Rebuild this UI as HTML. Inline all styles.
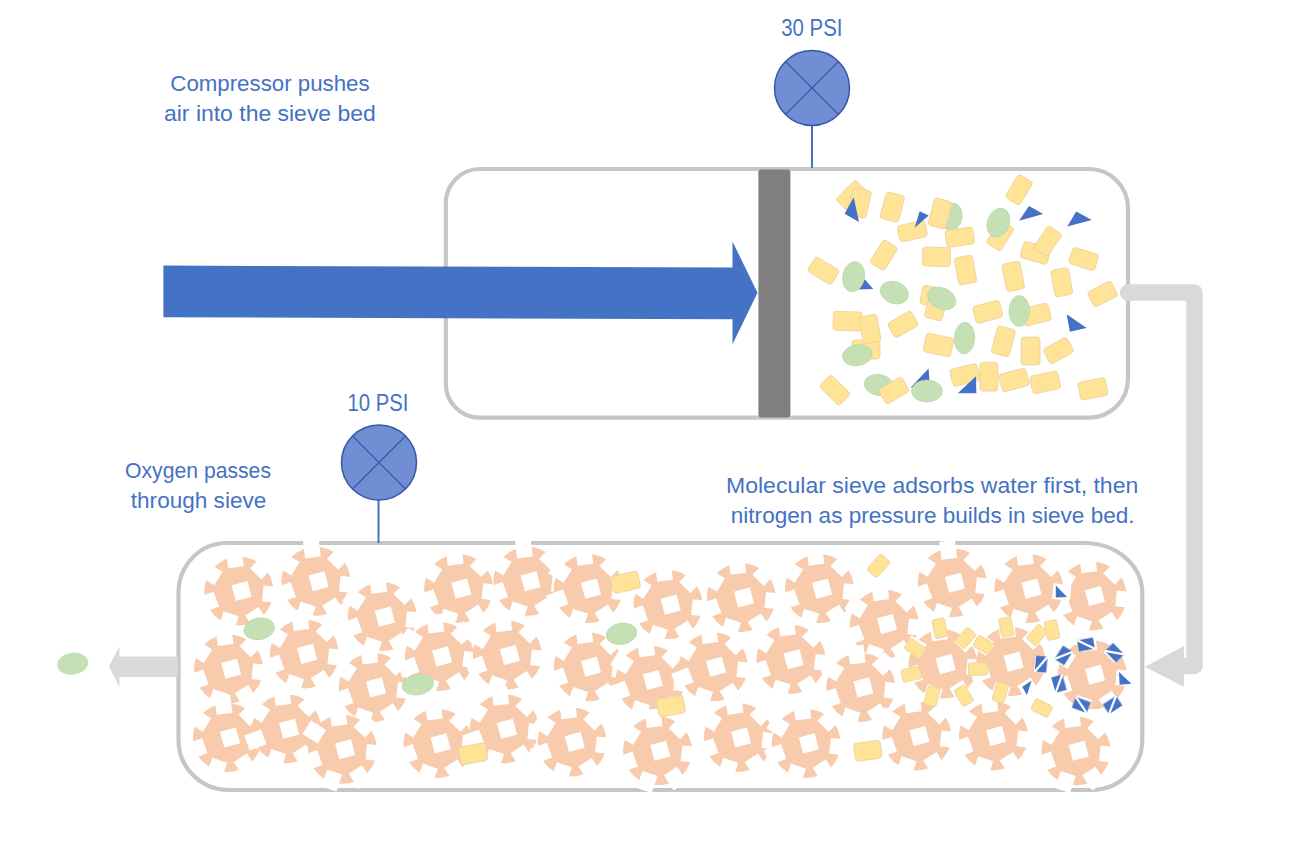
<!DOCTYPE html>
<html><head><meta charset="utf-8"><style>
html,body{margin:0;padding:0;background:#fff;width:1292px;height:848px;overflow:hidden}
svg{display:block}
text{font-family:"Liberation Sans",sans-serif;fill:#4472C4}
.y{fill:#FFE397;stroke:#EBD19E;stroke-width:0.8}
.gr{fill:#C5E0B4;stroke:#B9D6A6;stroke-width:0.6}
.b{fill:#4472C4;filter:url(#soft)}
.o{fill:#F8CBAD}
</style></head><body>
<svg width="1292" height="848" viewBox="0 0 1292 848">
<defs>
<filter id="soft" x="-30%" y="-30%" width="160%" height="160%"><feGaussianBlur stdDeviation="0.7"/></filter>

<g id="gear"><circle r="34.5" fill="#F8CBAD"/><rect x="24" y="-7.9" width="18" height="15.8" transform="rotate(-97.00)" fill="#fff"/><rect x="24" y="-7.9" width="18" height="15.8" transform="rotate(-45.57)" fill="#fff"/><rect x="24" y="-7.9" width="18" height="15.8" transform="rotate(5.86)" fill="#fff"/><rect x="24" y="-7.9" width="18" height="15.8" transform="rotate(57.29)" fill="#fff"/><rect x="24" y="-7.9" width="18" height="15.8" transform="rotate(108.71)" fill="#fff"/><rect x="24" y="-7.9" width="18" height="15.8" transform="rotate(160.14)" fill="#fff"/><rect x="24" y="-7.9" width="18" height="15.8" transform="rotate(211.57)" fill="#fff"/><rect x="-8.2" y="-8.2" width="16.4" height="16.4" transform="translate(2.7 0) rotate(-15)" fill="#fff"/></g>
</defs>
<!-- texts -->
<text x="170.3" y="91.4" font-size="22.5" textLength="199.3" lengthAdjust="spacingAndGlyphs">Compressor pushes</text>
<text x="164" y="121.2" font-size="22.5" textLength="211.8" lengthAdjust="spacingAndGlyphs">air into the sieve bed</text>
<text x="781.2" y="36.1" font-size="23" textLength="61.2" lengthAdjust="spacingAndGlyphs">30 PSI</text>
<text x="347.6" y="410.5" font-size="24.4" textLength="60.8" lengthAdjust="spacingAndGlyphs">10 PSI</text>
<text x="125" y="478" font-size="22.5" textLength="146" lengthAdjust="spacingAndGlyphs">Oxygen passes</text>
<text x="130.8" y="507.7" font-size="22.5" textLength="135.5" lengthAdjust="spacingAndGlyphs">through sieve</text>
<text x="726" y="492.8" font-size="22.5" textLength="412.3" lengthAdjust="spacingAndGlyphs">Molecular sieve adsorbs water first, then</text>
<text x="730.8" y="522.7" font-size="22.5" textLength="403.8" lengthAdjust="spacingAndGlyphs">nitrogen as pressure builds in sieve bed.</text>

<!-- top container -->
<path d="M479.8,169 L1089,169 A39,39 0 0 1 1128,208 L1128,378.7 A39,39 0 0 1 1089,417.7 L479.8,417.7 A34,34 0 0 1 445.8,383.7 L445.8,203 A34,34 0 0 1 479.8,169 Z" fill="none" stroke="#C6C6C6" stroke-width="4.2"/>
<!-- gauge line top -->
<line x1="812" y1="125" x2="812" y2="168" stroke="#4472C4" stroke-width="2"/>
<circle cx="812" cy="88" r="37.5" fill="#718DD3" stroke="#3558A6" stroke-width="1.5"/>
<line x1="785.5" y1="61.5" x2="838.5" y2="114.5" stroke="#3A5DAE" stroke-width="1.5"/>
<line x1="838.5" y1="61.5" x2="785.5" y2="114.5" stroke="#3A5DAE" stroke-width="1.5"/>
<!-- bar -->
<rect x="758.4" y="169.4" width="32" height="248" rx="3" fill="#7F7F7F"/>
<!-- blue arrow -->
<path d="M163.4,265.6 L732.5,267.4 L732.5,241.5 L757.5,292.8 L732.5,344.2 L732.5,319.2 L163.4,317.3 Z" fill="#4472C4"/>
<!-- pipe -->
<path d="M1128,292.5 L1194.5,292.5 L1194.5,666 L1184,666" fill="none" stroke="#D9D9D9" stroke-width="16.5" stroke-linejoin="round" stroke-linecap="round"/>
<path d="M1184,646 L1145,666.8 L1184,687 Z" fill="#D9D9D9"/>

<!-- bottom container -->
<path d="M226.5,543 L1084.3,543 A58,50 0 0 1 1142.3,593 L1142.3,740 A51,50 0 0 1 1091.3,790 L228.5,790 A50,50 0 0 1 178.5,740 L178.5,593 A48,50 0 0 1 226.5,543 Z" fill="none" stroke="#C6C6C6" stroke-width="4.2"/>
<!-- bottom gauge -->
<line x1="378.5" y1="500" x2="378.5" y2="543" stroke="#4472C4" stroke-width="2"/>
<circle cx="379" cy="462.5" r="37.5" fill="#718DD3" stroke="#3558A6" stroke-width="1.5"/>
<line x1="352.5" y1="436" x2="405.5" y2="489" stroke="#3A5DAE" stroke-width="1.5"/>
<line x1="405.5" y1="436" x2="352.5" y2="489" stroke="#3A5DAE" stroke-width="1.5"/>
<!-- out arrow -->
<path d="M178,656.5 L119.4,656.5 L119.4,646.3 L109,666.5 L119.4,686.9 L119.4,677 L178,677 Z" fill="#D9D9D9"/>
<ellipse cx="72.7" cy="663.7" rx="15.6" ry="11" fill="#C5E0B4" transform="rotate(-8 72.7 663.7)"/>

<rect x="837.4" y="187.0" width="28" height="17" rx="3" transform="rotate(-45 851.4 195.5)" class="y"/>
<rect x="850.1" y="188.8" width="18.7" height="28.3" rx="3" transform="rotate(13 859.5 203)" class="y"/>
<polygon points="853.7,197.3 844.6,213.8 859,222" class="b"/>
<rect x="882.8" y="193.5" width="19" height="27.3" rx="3" transform="rotate(15 892.3 207.2)" class="y"/>
<rect x="898.3" y="222.9" width="28" height="16.5" rx="3" transform="rotate(-13 912.3 231.2)" class="y"/>
<polygon points="919.6,211.3 928.7,215.4 914.7,227.8" class="b"/>
<ellipse cx="952" cy="217" rx="10" ry="14" transform="rotate(10 952 217)" class="gr"/>
<rect x="931.0" y="199.3" width="18" height="28.2" rx="3" transform="rotate(15 940 213.4)" class="y"/>
<rect x="1010.5" y="176.3" width="17" height="27" rx="3" transform="rotate(31 1019 189.8)" class="y"/>
<polygon points="1029,205.9 1043.2,213.9 1019,220.8" class="b"/>
<polygon points="1076.2,211.5 1091.8,220 1067.3,226.6" class="b"/>
<rect x="991.7" y="222.1" width="17" height="27" rx="3" transform="rotate(32 1000.2 235.6)" class="y"/>
<ellipse cx="998.4" cy="222.7" rx="11" ry="15" transform="rotate(20 998.4 222.7)" class="gr"/>
<rect x="945.7" y="228.7" width="28" height="17" rx="3" transform="rotate(-8 959.7 237.2)" class="y"/>
<rect x="875.3" y="241.7" width="17" height="27" rx="3" transform="rotate(32 883.8 255.2)" class="y"/>
<rect x="809.4" y="262.3" width="28" height="17" rx="3" transform="rotate(31 823.4 270.8)" class="y"/>
<polygon points="864.7,279.3 873.2,288.9 858.9,289.4" class="b"/>
<ellipse cx="853.6" cy="276.7" rx="11" ry="15.2" transform="rotate(10 853.6 276.7)" class="gr"/>
<ellipse cx="894.4" cy="292.6" rx="14.5" ry="11" transform="rotate(20 894.4 292.6)" class="gr"/>
<rect x="922.5" y="247.3" width="28" height="19" rx="3" transform="rotate(2 936.5 256.8)" class="y"/>
<rect x="956.4" y="256.2" width="18.3" height="27.7" rx="3" transform="rotate(-10 965.5 270.1)" class="y"/>
<rect x="1004.0" y="262.4" width="18.4" height="28" rx="3" transform="rotate(-11.6 1013.2 276.4)" class="y"/>
<rect x="1021.5" y="244.4" width="28" height="17" rx="3" transform="rotate(16 1035.5 252.9)" class="y"/>
<rect x="1039.2" y="227.7" width="17" height="27" rx="3" transform="rotate(35 1047.7 241.2)" class="y"/>
<rect x="1070.2" y="250.5" width="27" height="17" rx="3" transform="rotate(17 1083.7 259)" class="y"/>
<rect x="1052.8" y="268.8" width="18" height="27" rx="3" transform="rotate(-10 1061.8 282.3)" class="y"/>
<rect x="1089.3" y="285.5" width="26.5" height="17" rx="3" transform="rotate(-27 1102.6 294)" class="y"/>
<rect x="921.1" y="287.5" width="28" height="19" rx="3" transform="rotate(11 935.1 297)" class="y"/>
<rect x="927.3" y="291.6" width="18" height="28" rx="3" transform="rotate(14 936.3 305.6)" class="y"/>
<ellipse cx="941.6" cy="298.4" rx="15" ry="10.5" transform="rotate(25 941.6 298.4)" class="gr"/>
<rect x="974.0" y="303.1" width="27.5" height="17.5" rx="3" transform="rotate(-15 987.7 311.8)" class="y"/>
<rect x="1022.5" y="305.7" width="27.5" height="17.8" rx="3" transform="rotate(-14 1036.2 314.6)" class="y"/>
<ellipse cx="1019.3" cy="311" rx="10.4" ry="15.5" transform="rotate(0 1019.3 311)" class="gr"/>
<polygon points="1066.6,314.3 1086.7,327.9 1069.9,331.8" class="b"/>
<rect x="833.2" y="311.7" width="28.5" height="19" rx="3" transform="rotate(2 847.5 321.2)" class="y"/>
<rect x="852.0" y="340.0" width="28" height="19" rx="3" transform="rotate(0 866 349.5)" class="y"/>
<rect x="861.0" y="315.4" width="18" height="27.5" rx="3" transform="rotate(-10 870 329.2)" class="y"/>
<ellipse cx="857.3" cy="355.2" rx="15" ry="10.5" transform="rotate(-10 857.3 355.2)" class="gr"/>
<rect x="889.5" y="315.9" width="27" height="17" rx="3" transform="rotate(-30 903 324.4)" class="y"/>
<rect x="924.5" y="335.5" width="28" height="19" rx="3" transform="rotate(12 938.5 345)" class="y"/>
<ellipse cx="964.5" cy="338.1" rx="10.3" ry="15.9" transform="rotate(3 964.5 338.1)" class="gr"/>
<rect x="994.1" y="327.3" width="18.5" height="28" rx="3" transform="rotate(15 1003.4 341.3)" class="y"/>
<rect x="1021.1" y="337.0" width="19" height="28" rx="3" transform="rotate(0 1030.6 351)" class="y"/>
<rect x="1045.0" y="342.1" width="27" height="17" rx="3" transform="rotate(-29 1058.5 350.6)" class="y"/>
<rect x="820.9" y="381.7" width="28" height="17" rx="3" transform="rotate(44 834.9 390.2)" class="y"/>
<ellipse cx="878.8" cy="385" rx="14.6" ry="10.6" transform="rotate(10 878.8 385)" class="gr"/>
<rect x="880.4" y="382.0" width="27" height="17" rx="3" transform="rotate(-31 893.9 390.5)" class="y"/>
<polygon points="928.6,368.4 930,388 910.6,387.5" class="b"/>
<ellipse cx="927" cy="391" rx="15.5" ry="11" transform="rotate(0 927 391)" class="gr"/>
<rect x="951.0" y="366.2" width="28" height="17.5" rx="3" transform="rotate(-14 965 375)" class="y"/>
<polygon points="975.9,376.3 976.4,393.3 957.8,393.3" class="b"/>
<rect x="979.9" y="362.4" width="18" height="28.7" rx="3" transform="rotate(0 988.9 376.8)" class="y"/>
<rect x="1000.0" y="371.0" width="28" height="18" rx="3" transform="rotate(-15 1014 380)" class="y"/>
<rect x="1031.0" y="373.4" width="28.5" height="18" rx="3" transform="rotate(-12 1045.2 382.4)" class="y"/>
<rect x="1078.9" y="379.9" width="28" height="18" rx="3" transform="rotate(-11 1092.9 388.9)" class="y"/>
<use href="#gear" x="238.9" y="591.0"/>
<use href="#gear" x="315.9" y="581.3"/>
<use href="#gear" x="382.2" y="616.6"/>
<use href="#gear" x="228.5" y="668.8"/>
<use href="#gear" x="304.4" y="653.9"/>
<use href="#gear" x="373.3" y="687.4"/>
<use href="#gear" x="227.4" y="737.5"/>
<use href="#gear" x="286.4" y="728.7"/>
<use href="#gear" x="342.4" y="749.3"/>
<use href="#gear" x="458.6" y="588.6"/>
<use href="#gear" x="527.9" y="581.3"/>
<use href="#gear" x="588.3" y="588.6"/>
<use href="#gear" x="668.0" y="604.6"/>
<use href="#gear" x="439.4" y="656.4"/>
<use href="#gear" x="507.2" y="655.0"/>
<use href="#gear" x="588.3" y="666.8"/>
<use href="#gear" x="650.2" y="680.0"/>
<use href="#gear" x="437.9" y="743.4"/>
<use href="#gear" x="504.3" y="728.7"/>
<use href="#gear" x="572.1" y="742.0"/>
<use href="#gear" x="657.6" y="750.8"/>
<use href="#gear" x="741.3" y="597.5"/>
<use href="#gear" x="819.4" y="588.6"/>
<use href="#gear" x="884.3" y="624.0"/>
<use href="#gear" x="713.3" y="666.8"/>
<use href="#gear" x="790.9" y="659.3"/>
<use href="#gear" x="860.7" y="687.4"/>
<use href="#gear" x="738.4" y="737.5"/>
<use href="#gear" x="806.2" y="743.4"/>
<use href="#gear" x="952.2" y="582.7"/>
<use href="#gear" x="1092.2" y="596.0"/>
<use href="#gear" x="1028.8" y="588.6"/>
<use href="#gear" x="943.0" y="664.1"/>
<use href="#gear" x="1010.9" y="661.6"/>
<use href="#gear" x="1092.3" y="674.8"/>
<use href="#gear" x="916.8" y="736.0"/>
<use href="#gear" x="993.4" y="736.0"/>
<use href="#gear" x="1076.0" y="750.8"/>
<ellipse cx="259.2" cy="628.8" rx="15.4" ry="10.9" transform="rotate(-10 259.2 628.8)" class="gr"/>
<ellipse cx="417.9" cy="684.5" rx="15.9" ry="10.3" transform="rotate(-10 417.9 684.5)" class="gr"/>
<ellipse cx="621.5" cy="633.8" rx="15.4" ry="10.6" transform="rotate(-10 621.5 633.8)" class="gr"/>
<rect x="611.6" y="573.6" width="27.8" height="17.3" rx="3" transform="rotate(-13 625.5 582.2)" class="y"/>
<rect x="459.6" y="744.7" width="27" height="18" rx="3" transform="rotate(-10 473.1 753.7)" class="y"/>
<rect x="657.5" y="697.0" width="27" height="18" rx="3" transform="rotate(-10 671 706)" class="y"/>
<rect x="854.3" y="741.8" width="27" height="18" rx="3" transform="rotate(-8 867.8 750.8)" class="y"/>
<rect x="871.8" y="555.0" width="13.5" height="21.5" rx="3" transform="rotate(41 878.5 565.8)" class="y"/>
<rect x="933.5" y="618.7" width="12.5" height="19" rx="2" transform="rotate(-12 939.8 628.2)" class="y"/>
<rect x="959.5" y="628.4" width="12.5" height="19" rx="2" transform="rotate(42 965.7 637.9)" class="y"/>
<rect x="908.9" y="638.8" width="12.5" height="19" rx="2" transform="rotate(-56 915.1 648.3)" class="y"/>
<rect x="905.0" y="664.7" width="12.5" height="19" rx="2" transform="rotate(78 911.2 674.2)" class="y"/>
<rect x="925.8" y="686.8" width="12.5" height="19" rx="2" transform="rotate(15 932 696.3)" class="y"/>
<rect x="957.5" y="686.1" width="12.5" height="19" rx="2" transform="rotate(-30 963.8 695.6)" class="y"/>
<rect x="971.8" y="659.5" width="12.5" height="19" rx="2" transform="rotate(88 978 669)" class="y"/>
<rect x="1000.0" y="617.6" width="12.5" height="19" rx="2" transform="rotate(-10 1006.3 627.1)" class="y"/>
<rect x="1030.8" y="625.5" width="12.5" height="19" rx="2" transform="rotate(40 1037 635)" class="y"/>
<rect x="1045.8" y="620.5" width="12.5" height="19" rx="2" transform="rotate(-12 1052 630)" class="y"/>
<rect x="977.6" y="635.5" width="12.5" height="19" rx="2" transform="rotate(-61 983.9 645)" class="y"/>
<rect x="994.1" y="683.1" width="12.5" height="19" rx="2" transform="rotate(15 1000.4 692.6)" class="y"/>
<rect x="1035.5" y="698.6" width="12.5" height="19" rx="2" transform="rotate(117 1041.8 708.1)" class="y"/>
<g transform="rotate(-10 1086 644.5)"><rect x="1078.0" y="638.8" width="16" height="11.5" class="b"/><line x1="1078.0" y1="638.8" x2="1094.0" y2="650.2" stroke="#fff" stroke-width="2.2"/></g>
<g transform="rotate(46 1114.6 652.6)"><rect x="1106.6" y="646.9" width="16" height="11.5" class="b"/><line x1="1106.6" y1="658.4" x2="1122.6" y2="646.9" stroke="#fff" stroke-width="2.2"/></g>
<g transform="rotate(147 1112.5 704.9)"><rect x="1104.5" y="699.1" width="16" height="11.5" class="b"/><line x1="1104.5" y1="710.6" x2="1120.5" y2="699.1" stroke="#fff" stroke-width="2.2"/></g>
<g transform="rotate(200 1081.3 704.9)"><rect x="1073.3" y="699.1" width="16" height="11.5" class="b"/><line x1="1073.3" y1="699.1" x2="1089.3" y2="710.6" stroke="#fff" stroke-width="2.2"/></g>
<g transform="rotate(254 1058.9 683.7)"><rect x="1050.9" y="678.0" width="16" height="11.5" class="b"/><line x1="1050.9" y1="678.0" x2="1066.9" y2="689.5" stroke="#fff" stroke-width="2.2"/></g>
<g transform="rotate(-57 1063.6 655.4)"><rect x="1055.6" y="649.6" width="16" height="11.5" class="b"/><line x1="1055.6" y1="649.6" x2="1071.6" y2="661.1" stroke="#fff" stroke-width="2.2"/></g>
<g transform="rotate(95 1041.2 664.2)"><rect x="1033.2" y="658.5" width="16" height="11.5" class="b"/><line x1="1033.2" y1="658.5" x2="1049.2" y2="670.0" stroke="#fff" stroke-width="2.2"/></g>
<polygon points="1119,671.9 1131.4,683.7 1119.6,684.8" class="b"/>
<polygon points="1022.2,686.7 1031.6,680.8 1026.9,695" class="b"/>
<polygon points="1055.8,585.6 1067.1,596.9 1055.8,597.4" class="b"/>
</svg>
</body></html>
